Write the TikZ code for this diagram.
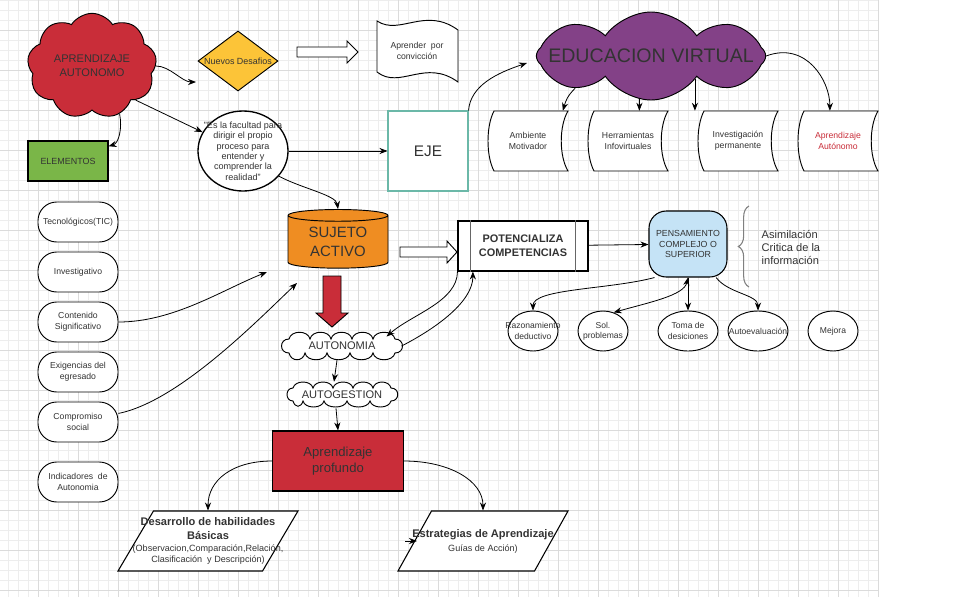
\documentclass[tikz,border=0pt]{standalone}
\usepackage{fontspec}
\setmainfont{Liberation Sans}
\usepackage{tikz}
\usetikzlibrary{calc}
\usetikzlibrary{shapes.symbols,shapes.geometric,shapes.misc}
\usetikzlibrary{arrows.meta,decorations.pathreplacing}

\definecolor{lucidred}{HTML}{C92D39}
\definecolor{lucidyellow}{HTML}{FCC438}
\definecolor{lucidgreen}{HTML}{7AB648}
\definecolor{lucidorange}{HTML}{EF8D22}
\definecolor{lucidpurple}{HTML}{834187}
\definecolor{lucidblue}{HTML}{C5E3F6}
\definecolor{lucidteal}{HTML}{6BB8A8}

\begin{document}
\begin{tikzpicture}[x=0.75pt, y=-0.75pt,
    >={Stealth[length=6pt,width=4.6pt]},
    every node/.style={text=black!80},
    conn/.style={->, line width=0.6pt},
    minorgrid/.style={black!7, line width=0.5pt},
    majorgrid/.style={black!14, line width=0.5pt},
    outline/.style={line width=0.7pt, fill=white},
    puff/.style={cloud, draw, cloud ignores aspect, inner sep=1pt, line width=0.7pt},
    pill/.style={draw, fill=white, rounded corners=14pt, minimum width=60pt, minimum height=30pt,
        align=center, font=\fontsize{6.5}{8.5}\selectfont, line width=0.7pt},
    oval/.style={ellipse, draw, fill=white, minimum height=30pt, inner sep=1pt, line width=0.7pt},
    ovaltext/.style={align=center, font=\fontsize{6.4}{7.7}\selectfont},
    storetext/.style={align=center, font=\fontsize{6.5}{8.2}\selectfont, minimum width=60pt, minimum height=45pt},
    flatcloud/.style={ellipse, inner sep=0pt, font=\fontsize{8.3}{10}\selectfont},
    slanted/.style={trapezium, trapezium left angle=72, trapezium right angle=108, trapezium stretches,
        draw, fill=white, minimum height=45pt, inner sep=2pt, line width=0.8pt}
]
\useasboundingbox (0,0) rectangle (960,597);
\fill[white] (0,0) rectangle (960,597);

% grid
\foreach \gx in {8,18,...,878} \draw[minorgrid] (\gx,0) -- (\gx,597);
\foreach \gy in {0,10,...,590} \draw[minorgrid] (0,\gy) -- (878,\gy);
\foreach \gx in {38,78,...,878} \draw[majorgrid] (\gx,0) -- (\gx,597);
\foreach \gy in {30,70,...,590} \draw[majorgrid] (0,\gy) -- (878,\gy);

% top row
\node[puff, fill=lucidred, minimum width=97pt, minimum height=79pt, cloud puffs=9, cloud puff arc=115,
    label={[align=center, font=\fontsize{8.3}{10.5}\selectfont]center:APRENDIZAJE\\AUTONOMO}] (apaut) at (92,66) {};
\node[diamond, draw, fill=lucidyellow, minimum width=60pt, minimum height=45pt, inner sep=1pt, line width=0.7pt,
    label={[font=\fontsize{6.7}{8}\selectfont]center:Nuevos Desafios}] (desafios) at (238,61) {};
\draw[outline] (297,47) -- (347,47) -- (347,41) -- (358,52) -- (347,63) -- (347,57) -- (297,57) -- cycle;
\draw[outline] (377,21) .. controls (400,36) and (425,6) .. (458,30) -- (458,82)
    .. controls (425,58) and (400,90) .. (377,72) -- cycle;
\node[align=center, font=\fontsize{6.5}{8.2}\selectfont] (conviccion) at (417,51) {Aprender~~por\\convicción};
\node[puff, fill=lucidpurple, minimum width=172pt, minimum height=66pt, cloud puffs=8, cloud puff arc=110,
    label={[font=\fontsize{14.7}{16}\selectfont]center:EDUCACION VIRTUAL}] (educ) at (651,56) {};

% second row
\node[draw, fill=lucidgreen, minimum width=60pt, minimum height=30pt, font=\fontsize{6.7}{8}\selectfont,
    line width=0.8pt] (elementos) at (68,161) {ELEMENTOS};
\node[ellipse, draw, fill=white, minimum width=67.5pt, minimum height=60pt, inner sep=1pt, line width=1pt,
    label={[align=center, font=\fontsize{6.8}{7.8}\selectfont]center:"Es la facultad para\\dirigir el propio\\proceso para\\entender y\\comprender la\\realidad"}] (quote) at (243,151) {};
\node[draw=lucidteal, fill=white, minimum size=60pt, font=\fontsize{11.5}{13}\selectfont, line width=0.8pt] (eje) at (428,151) {EJE};
\foreach \cx/\nm/\txt/\col in {528/ambiente/{Ambiente\\Motivador}/black!80,
    628/herramientas/{Herramientas\\Infovirtuales}/black!80,
    738/investigacion/{Investigación\\permanente}/black!80,
    838/apraut/{Aprendizaje\\Autónomo}/lucidred}
{
  \draw[outline] (\cx-34,111) -- (\cx+40,111) .. controls (\cx+31,126) and (\cx+31,156) .. (\cx+40,171)
      -- (\cx-34,171) .. controls (\cx-42,156) and (\cx-42,126) .. (\cx-34,111) -- cycle;
  \node[storetext, text=\col] (\nm) at (\cx,141) {\txt};
}

% middle
\foreach \cy/\nm/\txt in {222/tic/{Tecnológicos(TIC)}, 272/investigativo/{Investigativo},
    322/contenido/{Contenido\\Significativo}, 372/exigencias/{Exigencias del\\egresado},
    422/compromiso/{Compromiso\\social}, 482/indicadores/{Indicadores~~de\\Autonomia}}
  \node[pill] (\nm) at (78,\cy) {\txt};

\node[cylinder, shape border rotate=90, draw, fill=lucidorange, aspect=0.2, minimum width=75pt, minimum height=44pt,
    inner sep=0pt, align=center, font=\fontsize{11.2}{14}\selectfont, line width=0.7pt] (sujeto) at (338,242) {SUJETO\\ACTIVO};
\draw[outline] (400,247) -- (447,247) -- (447,241) -- (457,252) -- (447,263) -- (447,257) -- (400,257) -- cycle;
\node[draw, fill=white, minimum width=97.5pt, minimum height=37.5pt, align=center,
    font=\bfseries\fontsize{8.2}{10.5}\selectfont, line width=0.8pt] (potenc) at (523,246) {POTENCIALIZA\\COMPETENCIAS};
\draw[black!60, line width=1.2pt] ($(potenc.north west)+(13,0)$) -- ($(potenc.south west)+(13,0)$);
\draw[black!60, line width=1.2pt] ($(potenc.north east)+(-13,0)$) -- ($(potenc.south east)+(-13,0)$);
\node[draw, fill=lucidblue, rounded corners=13pt, minimum width=58.5pt, minimum height=49.5pt, inner sep=0pt,
    align=center, font=\fontsize{6.6}{7.9}\selectfont, line width=0.8pt] (pens) at (688,244) {PENSAMIENTO\\COMPLEJO O\\SUPERIOR};
\draw[black!50, line width=0.8pt, decorate, decoration={brace, amplitude=8pt}] (749,287) -- (749,206);
\node[anchor=west, align=left, font=\fontsize{8.3}{10.1}\selectfont] (asimilacion) at (757,247.5) {Asimilación\\Critica de la\\información};

\foreach \cx/\w/\nm/\txt in {533/37.5/razonamiento/{Razonamiento\\deductivo}, 603/37.5/solucion/{Sol.\\problemas},
    688/45/toma/{Toma de\\desiciones}, 758/45/autoevaluacion/{Autoevaluación}, 833/37.5/mejora/{Mejora}}
  \node[oval, minimum width=\w pt, label={[ovaltext]center:\txt}] (\nm) at (\cx,331) {};

\draw[line width=0.7pt, fill=lucidred] (323,276) -- (341,276) -- (341,313) -- (348,313) -- (332,327) -- (316,313) -- (323,313) -- cycle;

% flat clouds
\draw[outline] (289,339) .. controls (291,330) and (308,330) .. (310,339)
    .. controls (312,330) and (329,330) .. (331,339) .. controls (333,330) and (350,330) .. (352,339)
    .. controls (354,330) and (371,330) .. (373,339) .. controls (375,330) and (393,330) .. (395,339)
    .. controls (405,339) and (405,353) .. (395,353)
    .. controls (393,362) and (375,362) .. (373,353) .. controls (371,362) and (352,362) .. (350,353)
    .. controls (348,362) and (329,362) .. (327,353) .. controls (325,362) and (307,362) .. (305,353)
    .. controls (303,362) and (291,362) .. (289,353)
    .. controls (279,353) and (279,339) .. (289,339) -- cycle;
\node[flatcloud, minimum width=89pt, minimum height=21pt] (autonomia) at (342,346) {AUTONOMIA};
\draw[outline] (293,388) .. controls (295,380) and (311,380) .. (313,388)
    .. controls (315,380) and (331,380) .. (333,388) .. controls (335,380) and (351,380) .. (353,388)
    .. controls (355,380) and (371,380) .. (373,388) .. controls (375,380) and (389,380) .. (391,388)
    .. controls (400,388) and (400,401) .. (391,401)
    .. controls (389,409) and (372,409) .. (370,401) .. controls (368,409) and (349,409) .. (347,401)
    .. controls (345,409) and (326,409) .. (324,401) .. controls (322,409) and (305,409) .. (303,401)
    .. controls (301,408) and (295,408) .. (293,401)
    .. controls (285,401) and (285,388) .. (293,388) -- cycle;
\node[flatcloud, minimum width=82.5pt, minimum height=19.5pt] (autogestion) at (342,395) {AUTOGESTION};

% bottom
\node[draw, fill=lucidred, minimum width=98pt, minimum height=45pt, align=center, font=\fontsize{9.8}{12}\selectfont,
    line width=0.8pt] (profundo) at (338,461) {Aprendizaje\\profundo};
\node[slanted, minimum width=135pt,
    label={[align=center, font=\fontsize{8.3}{10.5}\selectfont]center:{\textbf{Desarrollo de habilidades}\\\textbf{Básicas}\\[-1.5pt]{\fontsize{6.8}{8.5}\selectfont(Observacion,Comparación,Relación,}\\[-2pt]{\fontsize{6.8}{8.5}\selectfont Clasificación~~y Descripción)}}}] (desarrollo) at (208,541) {};
\node[slanted, minimum width=127.5pt,
    label={[align=center, font=\fontsize{8.3}{10.5}\selectfont]center:{\textbf{Estrategias de Aprendizaje}\\{\fontsize{6.8}{8.5}\selectfont Guías de Acción)}}}] (estrategias) at (483,541) {};

% connectors
\coordinate (desafin) at (196,82);
\coordinate (eduin) at (527,63);
\coordinate (sujin1) at (267,272);
\coordinate (sujin2) at (297,283);
\coordinate (stubA) at (405,541);
\coordinate (stubB) at (417,541);

\draw[conn] (apaut.east) .. controls +(14,0) and +(-14,0) .. (desafin);
\draw[conn] (apaut.-38) -- (quote.155);
\draw[conn] (apaut.-60) .. controls +(3,15) and +(10,-3) .. (elementos.20);
\draw[conn] (quote) -- (eje);
\draw[conn] (quote.-35) .. controls +(22,12) and +(-2,-14) .. (sujeto.north);
\draw[conn] (eje.north east) .. controls +(2,-25) and +(-30,10) .. (eduin);
\draw[conn] (educ.-157) .. controls +(-8,8) and +(3,-10) .. (ambiente.41);
\draw[conn] (educ.-105) -- (educ.-105 |- herramientas.north);
\draw[conn] (educ.-28) -- (educ.-28 |- investigacion.north);
\draw[conn] (educ.east) .. controls +(40,-15) and +(0,-30) .. (apraut.105);
\draw[conn] (contenido.east) .. controls +(55,0) and +(-45,18) .. (sujin1);
\draw[conn] (compromiso.12) .. controls +(60,-12) and +(-40,38) .. (sujin2);
\draw[conn] (potenc) -- (pens);
\draw[conn] (pens.-135) .. controls +(-45,12) and +(0,-22) .. (razonamiento.north);
\draw[<->, line width=0.6pt] (pens.south) .. controls +(-4,18) and +(35,-10) .. (solucion.60);
\draw[conn] (pens.south) -- (toma.north);
\draw[conn] (pens.-50) .. controls +(12,16) and +(0,-16) .. (autoevaluacion.north);
\draw[conn] (potenc.south west) .. controls +(0,30) and +(25,-22) .. (autonomia.12);
\draw[conn] (autonomia.east) .. controls +(35,-18) and +(0,30) .. (potenc.-153);
\draw[conn] ($(autonomia.south)+(-5,0)$) -- ($(autogestion.north)+(-8,0)$);
\draw[conn] ($(autogestion.south)+(-6,0)$) -- (profundo.north);
\draw[conn] (profundo.west) .. controls +(-40,0) and +(0,-30) .. (desarrollo.north);
\draw[conn] (profundo.east) .. controls +(45,0) and +(0,-30) .. (estrategias.north);
\draw[conn] (stubA) -- (stubB);
\end{tikzpicture}
\end{document}
